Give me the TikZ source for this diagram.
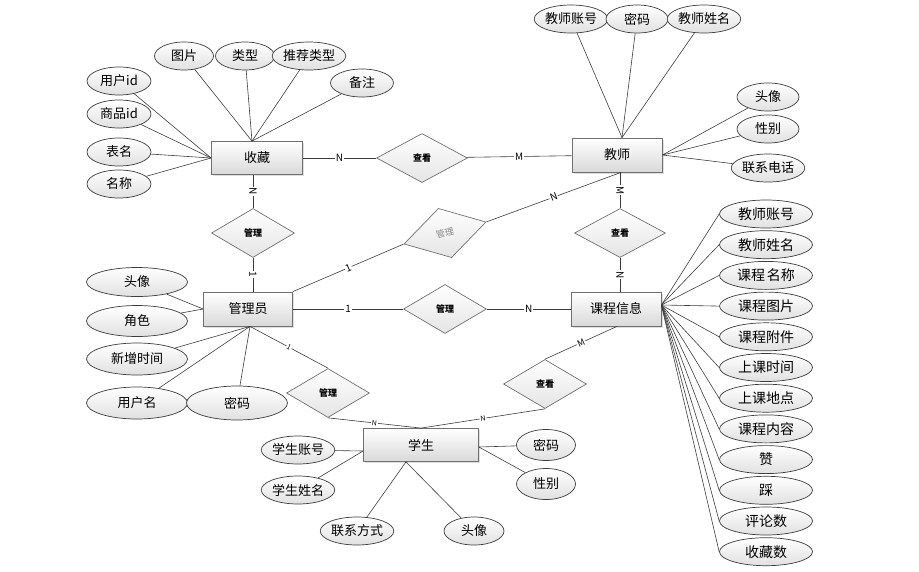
\documentclass[tikz,border=0pt]{standalone}
\usepackage{fontspec}
\setmainfont{Noto Sans CJK SC}
\usetikzlibrary{calc,positioning,shapes.geometric,shadows}
\definecolor{erline}{HTML}{3C3C3C}
\definecolor{erbord}{HTML}{707070}
\definecolor{erfade}{HTML}{D9D9D9}
\definecolor{ergrey}{HTML}{8A8A8A}
\tikzset{
  erent/.style={rectangle, draw=erbord, line width=0.8pt, top color=white,
    bottom color=erfade, minimum width=90pt, minimum height=34pt, inner sep=0pt,
    font=\fontsize{13}{13}\selectfont,
    drop shadow={shadow xshift=1.5pt, shadow yshift=-1.5pt, opacity=0.25}},
  errel/.style={diamond, draw=erbord, line width=0.7pt, top color=white,
    bottom color=erfade!70, minimum width=83pt, minimum height=49pt,
    inner sep=0pt, aspect=1.7, font=\fontsize{9}{9}\selectfont\bfseries},
  erattr/.style={ellipse, draw=erline, line width=0.7pt, top color=white,
    bottom color=erfade!80, minimum width=62pt, minimum height=28pt,
    inner sep=0pt, font=\fontsize{13}{13}\selectfont},
  erlink/.style={draw=erline, line width=0.6pt},
  ercard/.style={fill=white, inner sep=0.8pt, sloped, font=\fontsize{10}{10}\selectfont},
  ercardsm/.style={ercard, font=\fontsize{7}{7}\selectfont},
}

\begin{document}
\begin{tikzpicture}[x=1pt, y=-1pt]
  \useasboundingbox (0,0) rectangle (919,571);
  % entities
  \node[erent, minimum width=91pt, minimum height=33pt] (shc) at (257,158) {收藏};
  \node[erent] (tch) at (617,155) {教师};
  \node[erent, minimum width=89pt] (adm) at (248,309) {管理员};
  \node[erent] (crs) at (616,309) {课程信息};
  \node[erent, minimum width=115pt, minimum height=33pt] (stu) at (421,445) {学生};
  % relationships
  \node[errel, minimum width=91pt] (look1) at (422,158) {查看};
  \node[errel] (mng1) at (253,233) {管理};
  \node[errel, rotate=15, minimum width=85pt, minimum height=51pt,
        font=\fontsize{9}{9}\selectfont, text=ergrey] (mng2) at (445,233) {管理};
  \node[errel, minimum width=91pt] (look2) at (620,233) {查看};
  \node[errel] (mng3) at (445,309) {管理};
  \node[errel] (mng4) at (328,393) {管理};
  \node[errel] (look3) at (545,384) {查看};
  % meeting points on the entities
  \coordinate (shcT) at ($(shc.north)+(-5,0)$);
  \coordinate (tchT) at ($(tch.north)+(5,0)$);
  \coordinate (tchB) at ($(tch.south)+(4,0)$);
  \coordinate (admB) at ($(adm.south)+(2,0)$);
  \coordinate (crsB) at ($(crs.south)+(1,0)$);
  \coordinate (crsR) at ($(crs.east)+(0,-4)$);
  \coordinate (stuL) at ($(stu.west)+(0,6)$);
  \coordinate (stuB) at ($(stu.south)+(-15,0)$);
  \coordinate (stuR) at ($(stu.east)+(0,2)$);
  % links with cardinalities
  \draw[erlink] (shc) -- node[ercard] {N} (look1);
  \draw[erlink] (look1) -- node[ercard] {M} (tch);
  \draw[erlink] (shc.south -| mng1.north) -- node[ercard] {N} (mng1.north);
  \draw[erlink] (mng1.south) -- node[ercard] {1} (mng1.south |- adm.north);
  \draw[erlink] (adm.north east) -- node[ercard] {1} (mng2.west);
  \draw[erlink] (mng2.east) -- node[ercard] {N} (tchB);
  \draw[erlink] (look2.north |- tch.south) -- node[ercard] {M} (look2.north);
  \draw[erlink] (look2.south) -- node[ercard] {N} (look2.south |- crs.north);
  \draw[erlink] (adm) -- node[ercard] {1} (mng3);
  \draw[erlink] (mng3) -- node[ercard] {N} (crs);
  \draw[erlink] (admB) -- node[ercardsm] {1} (mng4.north);
  \draw[erlink] (mng4.south) -- node[ercardsm] {N} (stu.north);
  \draw[erlink] (stu.north) -- node[ercardsm] {N} (look3.south);
  \draw[erlink] (look3.north) -- node[ercard, font=\fontsize{9}{9}\selectfont] {M} (crsB);
  % attributes of 收藏
  \foreach \t/\x/\y/\w [count=\i] in {用户id/119/81/64, 商品id/119/114/64,
                                      表名/119/152/64, 名称/119/184/64}
    {\node[erattr, minimum width=\w pt] (sl\i) at (\x,\y) {\t};
     \draw[erlink] (sl\i) -- (shc.west);}
  \foreach \t/\x/\y/\w [count=\i] in {图片/184/56/59, 类型/245/56/59,
                                      推荐类型/309/56/64, 备注/362/83/63}
    {\node[erattr, minimum width=\w pt] (st\i) at (\x,\y) {\t};
     \draw[erlink] (st\i) -- (shcT);}
  % attributes of 教师
  \foreach \t/\x/\y/\w [count=\i] in {教师账号/571/19/65, 密码/637/19/62,
                                      教师姓名/704/19/63}
    {\node[erattr, minimum width=\w pt] (tt\i) at (\x,\y) {\t};
     \draw[erlink] (tt\i) -- (tchT);}
  \foreach \t/\y [count=\i] in {头像/97, 性别/129, 联系电话/168}
    {\node[erattr] (tr\i) at (768,\y) {\t};
     \draw[erlink] (tr\i) -- (tch.east);}
  % attributes of 管理员
  \foreach \t/\y/\h [count=\i] in {头像/282/29, 角色/321/31}
    {\node[erattr, minimum width=101pt, minimum height=\h pt] (al\i) at (137,\y) {\t};
     \draw[erlink] (al\i) -- (adm.west);}
  \foreach \t/\x/\y/\h [count=\i] in {新增时间/137/359/32, 用户名/137/403/32,
                                      密码/237/403/34}
    {\node[erattr, minimum width=101pt, minimum height=\h pt] (ab\i) at (\x,\y) {\t};
     \draw[erlink] (ab\i) -- (admB);}
  % attributes of 课程信息
  \foreach \t [count=\i] in {教师账号, 教师姓名, 课程\hspace{2pt}名称, 课程图片, 课程附件,
                             上课时间, 上课地点, 课程内容, 赞, 踩, 评论数, 收藏数}
    {\node[erattr, minimum width=93pt, font=\fontsize{14}{14}\selectfont]
       (cr\i) at (766,{214+30.7*(\i-1)}) {\t};
     \draw[erlink] (cr\i.west) -- (crsR);}
  % attributes of 学生
  \foreach \t/\y [count=\i] in {学生账号/450, 学生姓名/490}
    {\node[erattr, minimum width=61pt] (ul\i) at (298,\y) {\t};
     \draw[erlink] (ul\i) -- (stuL);}
  \foreach \t/\x [count=\i] in {联系方式/357, 头像/474}
    {\node[erattr, minimum width=60pt] (ub\i) at (\x,531) {\t};
     \draw[erlink] (ub\i) -- (stuB);}
  \foreach \t/\y [count=\i] in {密码/445, 性别/484}
    {\node[erattr, minimum width=59pt, minimum height=31pt] (ur\i) at (546,\y) {\t};
     \draw[erlink] (ur\i) -- (stuR);}
\end{tikzpicture}
\end{document}
